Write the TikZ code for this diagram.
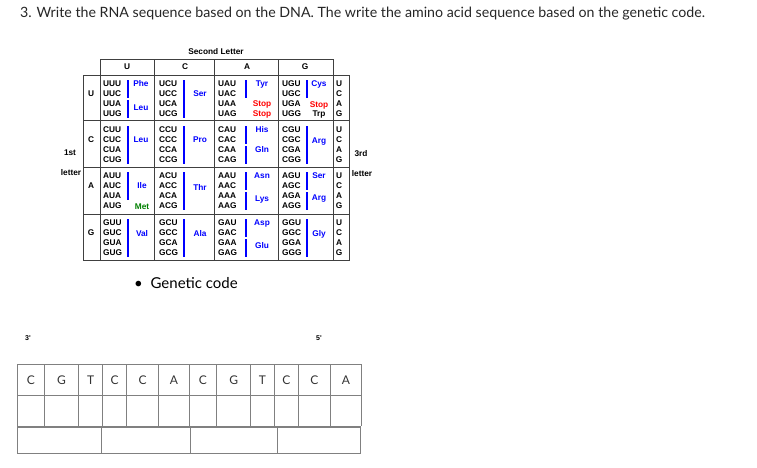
\documentclass[tikz,border=0pt]{standalone}
\usepackage{fontspec}
\setmainfont{Lato}
\newfontfamily\arial{Liberation Sans}
\begin{document}
\begin{tikzpicture}[x=1pt,y=-1pt,
  cod/.style={font=\arial\bfseries\fontsize{8.3}{9}\selectfont,inner sep=0pt,anchor=west},
  lab/.style={font=\arial\bfseries\fontsize{8.3}{9}\selectfont,inner sep=0pt},
  aa/.style={lab,text=blue},
  tl/.style={draw=black!75,line width=0.9pt},
  gl/.style={draw=black!50,line width=1pt},
  bb/.style={draw=blue,line width=1.3pt},
  dna/.style={font=\fontsize{12}{13}\selectfont,inner sep=0pt,text=black!80}]
\useasboundingbox (0,0) rectangle (757,467);
\node[anchor=west,inner sep=0pt,font=\fontsize{14.2}{16}\selectfont,text=black!85] (title) at (20,14) {3. Write the RNA sequence based on the DNA.  The write the amino acid sequence based on the genetic code.};
% table
\node[lab] (sl) at (216,52) {Second Letter};
\draw[tl] (100,75) -- (100,59) -- (333,59) -- (333,75);
\foreach \x in {154,214,278} \draw[tl] (\x,59) -- (\x,260);
\draw[tl] (83,75) rectangle (349,260);
\draw[tl] (100,75) -- (100,260);
\draw[tl] (333,75) -- (333,260);
\foreach \y in {120,167,214} \draw[tl] (83,\y) -- (349,\y);
\foreach \x/\l in {127/U,185/C,247/A,305/G} \node[lab] (h\l) at (\x,67) {\l};
\node[lab] (f1) at (70,153) {1st};
\node[lab] (f2) at (71,173) {letter};
\node[lab] (t1) at (361,154) {3rd};
\node[lab] (t2) at (362,174) {letter};
\foreach \b/\by in {U/84,C/130,A/176,G/223}{
  \node[lab] (r\b) at (91,\by+10) {\b};
  \foreach \t [count=\i from 0] in {U,C,A,G}
    \node[lab] (th\b\t) at (339,\by+10*\i) {\t};
  \foreach \s/\sx [count=\j from 0] in {U/103,C/159,A/218,G/282}
    \foreach \t [count=\i from 0] in {U,C,A,G}
      \node[cod] (c\b\s\t) at (\sx,\by+10*\i) {\b\s\t};
}
\newcommand\aabar[4]{\draw[bb] (#1,#2+10*#3-4) -- (#1,#2+10*#4+4);}
% U block
\aabar{128}{84}{0}{1}\aabar{128}{84}{2}{3}\aabar{184}{84}{0}{3}
\aabar{246}{84}{0}{1}\aabar{307}{84}{0}{1}
\node[aa] (phe) at (141,84) {Phe};
\node[aa] (leu1) at (141,108) {Leu};
\node[aa] (ser1) at (200,94) {Ser};
\node[aa] (tyr) at (262,84) {Tyr};
\node[lab,text=red] (st1) at (262,104) {Stop};
\node[lab,text=red] (st2) at (262,114) {Stop};
\node[aa] (cys) at (319,84) {Cys};
\node[lab,text=red] (st3) at (319,105) {Stop};
\node[lab] (trp) at (319,114) {Trp};
% C block
\aabar{128}{130}{0}{3}\aabar{184}{130}{0}{3}\aabar{246}{130}{0}{1}\aabar{246}{130}{2}{3}\aabar{307}{130}{0}{3}
\node[aa] (leu2) at (141,140) {Leu};
\node[aa] (pro) at (200,140) {Pro};
\node[aa] (his) at (262,130) {His};
\node[aa] (gln) at (262,150) {Gln};
\node[aa] (arg1) at (319,142) {Arg};
% A block
\aabar{128}{176}{0}{2}\aabar{184}{176}{0}{3}\aabar{246}{176}{0}{1}\aabar{246}{176}{2}{3}\aabar{307}{176}{0}{1}\aabar{307}{176}{2}{3}
\node[aa] (ile) at (142,186) {Ile};
\node[lab,text=green!50!black] (met) at (142,207) {Met};
\node[aa] (thr) at (200,187) {Thr};
\node[aa] (asn) at (262,176) {Asn};
\node[aa] (lys) at (262,199) {Lys};
\node[aa] (ser2) at (319,176) {Ser};
\node[aa] (arg2) at (319,199) {Arg};
% G block
\aabar{128}{223}{0}{3}\aabar{184}{223}{0}{3}\aabar{246}{223}{0}{1}\aabar{246}{223}{2}{3}\aabar{307}{223}{0}{3}
\node[aa] (val) at (142,234) {Val};
\node[aa] (ala) at (200,234) {Ala};
\node[aa] (asp) at (262,223) {Asp};
\node[aa] (glu) at (262,246) {Glu};
\node[aa] (gly) at (319,234) {Gly};
% genetic code
\node[anchor=west,inner sep=0pt,font=\fontsize{15}{16}\selectfont] (gc) at (134,283) {\textbullet\ \ Genetic code};
% bottom
\node[lab,font=\arial\bfseries\fontsize{7}{8}\selectfont] (p3) at (28,338) {3'};
\node[lab,font=\arial\bfseries\fontsize{7}{8}\selectfont] (p5) at (319,338) {5'};
\def\xs{17.3,44.3,78.7,102.7,126.7,158.7,189.3,216.7,250.7,274.3,298.3,330.7,361}
\foreach \x in \xs \draw[gl] (\x,364) -- (\x,426);
\draw[gl] (17.3,364) -- (361,364);
\draw[gl] (17.3,395.3) -- (361,395.3);
\draw[gl] (17.3,426) -- (361,426);
\draw[gl] (17.3,427.5) rectangle (360.3,453.3);
\foreach \x in {101.7,190.3,277.3} \draw[gl] (\x,427.5) -- (\x,453.3);
\foreach \a/\b/\l [count=\k] in {17.3/44.3/C,44.3/78.7/G,78.7/102.7/T,102.7/126.7/C,126.7/158.7/C,158.7/189.3/A,189.3/216.7/C,216.7/250.7/G,250.7/274.3/T,274.3/298.3/C,298.3/330.7/C,330.7/361/A}
  \node[dna] (d\k) at ({(\a+\b)/2},380) {\l};
\end{tikzpicture}
\end{document}
